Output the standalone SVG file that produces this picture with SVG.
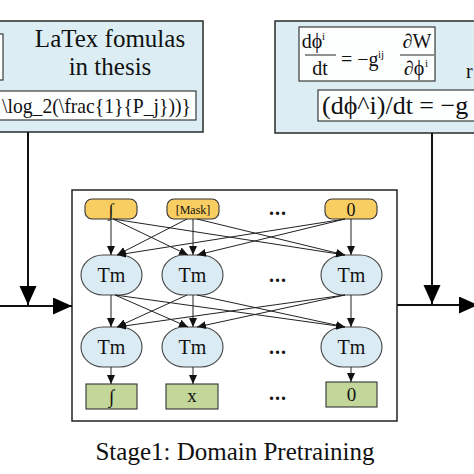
<svg xmlns="http://www.w3.org/2000/svg" width="474" height="474" viewBox="0 0 474 474">
<style>
.serif{font-family:"Liberation Serif","Times New Roman",serif;fill:#111}
.blue{fill:#DCEEF4;stroke:#2a2a2a;stroke-width:1.5}
.tbox{fill:#FDFEFE;stroke:#3a3a3a;stroke-width:1.2}
.yel{fill:#F8CD62;stroke:#333;stroke-width:1.1}
.tm{fill:#DAEBF3;stroke:#444;stroke-width:1.1}
.grn{fill:#C4D79A;stroke:#333;stroke-width:1.1}
.e{stroke:#222;stroke-width:1;fill:none;marker-end:url(#ah)}
.big{stroke:#111;stroke-width:2;fill:none}
.dots{font-weight:bold;letter-spacing:1px}
</style>
<defs>
<marker id="ah" markerUnits="userSpaceOnUse" markerWidth="10" markerHeight="10" refX="9" refY="4" orient="auto">
<path d="M0,0 L9,4 L0,8 Z" fill="#111"/>
</marker>
<marker id="bh" markerUnits="userSpaceOnUse" markerWidth="20" markerHeight="20" refX="19" refY="8.5" orient="auto">
<path d="M0,0 L19,8.5 L0,17 Z" fill="#000"/>
</marker>
</defs>
<rect width="474" height="474" fill="#fff"/>

<g id="latex-box">
<rect class="blue" x="-2" y="21" width="205" height="111"/>
<rect class="tbox" x="-6" y="34" width="9" height="46"/>
<text class="serif" x="110" y="47" font-size="25" text-anchor="middle">LaTex fomulas</text>
<text class="serif" x="110" y="75" font-size="25" text-anchor="middle">in thesis</text>
<rect class="tbox" x="-2" y="91" width="198" height="29"/>
<text class="serif" x="2" y="113" font-size="22" textLength="189" lengthAdjust="spacingAndGlyphs">\log_2(\frac{1}{P_j}))}</text>
</g>

<g id="formula-box">
<rect class="blue" x="275" y="21" width="210" height="112"/>
<rect class="tbox" x="299" y="27" width="136" height="54"/>
<text class="serif" x="312" y="48" font-size="20" text-anchor="middle">dϕ</text>
<text class="serif" x="322" y="40" font-size="11">i</text>
<line x1="305" y1="55" x2="336" y2="55" stroke="#222" stroke-width="1"/>
<text class="serif" x="320" y="75" font-size="20" text-anchor="middle">dt</text>
<text class="serif" x="341" y="66" font-size="20">= −g</text>
<text class="serif" x="378" y="58" font-size="11">ij</text>
<text class="serif" x="417" y="48" font-size="20" text-anchor="middle">∂W</text>
<line x1="400" y1="55" x2="434" y2="55" stroke="#222" stroke-width="1"/>
<text class="serif" x="414" y="75" font-size="20" text-anchor="middle">∂ϕ</text>
<text class="serif" x="425" y="67" font-size="11">i</text>
<text class="serif" x="466" y="78" font-size="20">r</text>
<rect class="tbox" x="318" y="90" width="170" height="31"/>
<text class="serif" x="322" y="114" font-size="26">(dϕ^i)/dt = −g</text>
</g>

<g id="pretrain-box">
<rect x="72" y="190" width="325" height="231" fill="#fff" stroke="#222" stroke-width="1.5"/>
</g>

<g id="in1"><rect class="yel" x="85" y="199" width="52" height="20" rx="7"/><text class="serif" x="111" y="216" font-size="18" text-anchor="middle">∫</text></g>
<g id="in2"><rect class="yel" x="167" y="199" width="52" height="20" rx="7"/><text class="serif" x="193" y="213.5" font-size="12" text-anchor="middle">[Mask]</text></g>
<g id="in3"><rect class="yel" x="325" y="199" width="52" height="20" rx="7"/><text class="serif" x="351" y="216" font-size="18" text-anchor="middle">0</text></g>
<g id="dots1"><text class="serif dots" x="278" y="215" font-size="20" text-anchor="middle">...</text></g>

<g id="tm11"><rect class="tm" x="81" y="255" width="61" height="40" rx="22" ry="20"/><text class="serif" x="111.5" y="282" font-size="20" text-anchor="middle">Tm</text></g>
<g id="tm12"><rect class="tm" x="162" y="255" width="61" height="40" rx="22" ry="20"/><text class="serif" x="192.5" y="282" font-size="20" text-anchor="middle">Tm</text></g>
<g id="tm13"><rect class="tm" x="321" y="255" width="61" height="40" rx="22" ry="20"/><text class="serif" x="351.5" y="282" font-size="20" text-anchor="middle">Tm</text></g>
<g id="dots2"><text class="serif dots" x="278" y="282" font-size="20" text-anchor="middle">...</text></g>

<g id="tm21"><rect class="tm" x="81" y="327" width="61" height="40" rx="22" ry="20"/><text class="serif" x="111.5" y="354" font-size="20" text-anchor="middle">Tm</text></g>
<g id="tm22"><rect class="tm" x="162" y="327" width="61" height="40" rx="22" ry="20"/><text class="serif" x="192.5" y="354" font-size="20" text-anchor="middle">Tm</text></g>
<g id="tm23"><rect class="tm" x="321" y="327" width="61" height="40" rx="22" ry="20"/><text class="serif" x="351.5" y="354" font-size="20" text-anchor="middle">Tm</text></g>
<g id="dots3"><text class="serif dots" x="278" y="354" font-size="20" text-anchor="middle">...</text></g>

<g id="out1"><rect class="grn" x="86" y="384" width="51" height="25"/><text class="serif" x="111.5" y="403" font-size="19" text-anchor="middle">∫</text></g>
<g id="out2"><rect class="grn" x="166" y="384" width="52" height="25"/><text class="serif" x="192" y="402" font-size="19" text-anchor="middle">x</text></g>
<g id="out3"><rect class="grn" x="326" y="382" width="51" height="25"/><text class="serif" x="351.5" y="401" font-size="19" text-anchor="middle">0</text></g>
<g id="dots4"><text class="serif dots" x="278" y="400" font-size="20" text-anchor="middle">...</text></g>

<g id="caption"><text class="serif" x="235" y="460" font-size="25" text-anchor="middle">Stage1: Domain Pretraining</text></g>

<g id="connectors">
<line class="e" x1="111" y1="219" x2="111" y2="255"/>
<line class="e" x1="113" y1="219" x2="188" y2="255"/>
<line class="e" x1="113" y1="219" x2="345" y2="255"/>
<line class="e" x1="187" y1="219" x2="117" y2="255"/>
<line class="e" x1="193" y1="219" x2="193" y2="255"/>
<line class="e" x1="197" y1="219" x2="345" y2="255"/>
<line class="e" x1="345" y1="219" x2="117" y2="255"/>
<line class="e" x1="345" y1="219" x2="197" y2="255"/>
<line class="e" x1="351" y1="219" x2="351" y2="255"/>

<line class="e" x1="111" y1="295" x2="111" y2="327"/>
<line class="e" x1="115" y1="295" x2="188" y2="327"/>
<line class="e" x1="115" y1="295" x2="345" y2="327"/>
<line class="e" x1="187" y1="295" x2="117" y2="327"/>
<line class="e" x1="193" y1="295" x2="193" y2="327"/>
<line class="e" x1="197" y1="295" x2="345" y2="327"/>
<line class="e" x1="345" y1="295" x2="117" y2="327"/>
<line class="e" x1="345" y1="295" x2="197" y2="327"/>
<line class="e" x1="351" y1="295" x2="351" y2="327"/>

<line class="e" x1="111" y1="367" x2="111" y2="384"/>
<line class="e" x1="193" y1="367" x2="193" y2="384"/>
<line class="e" x1="351" y1="367" x2="351" y2="382"/>

<line class="big" x1="28" y1="132" x2="28" y2="305" marker-end="url(#bh)"/>
<line class="big" x1="0" y1="306" x2="72" y2="306" marker-end="url(#bh)"/>
<line class="big" x1="432" y1="133" x2="432" y2="304" marker-end="url(#bh)"/>
<line class="big" x1="397" y1="305" x2="478" y2="305" marker-end="url(#bh)"/>
</g>
</svg>
